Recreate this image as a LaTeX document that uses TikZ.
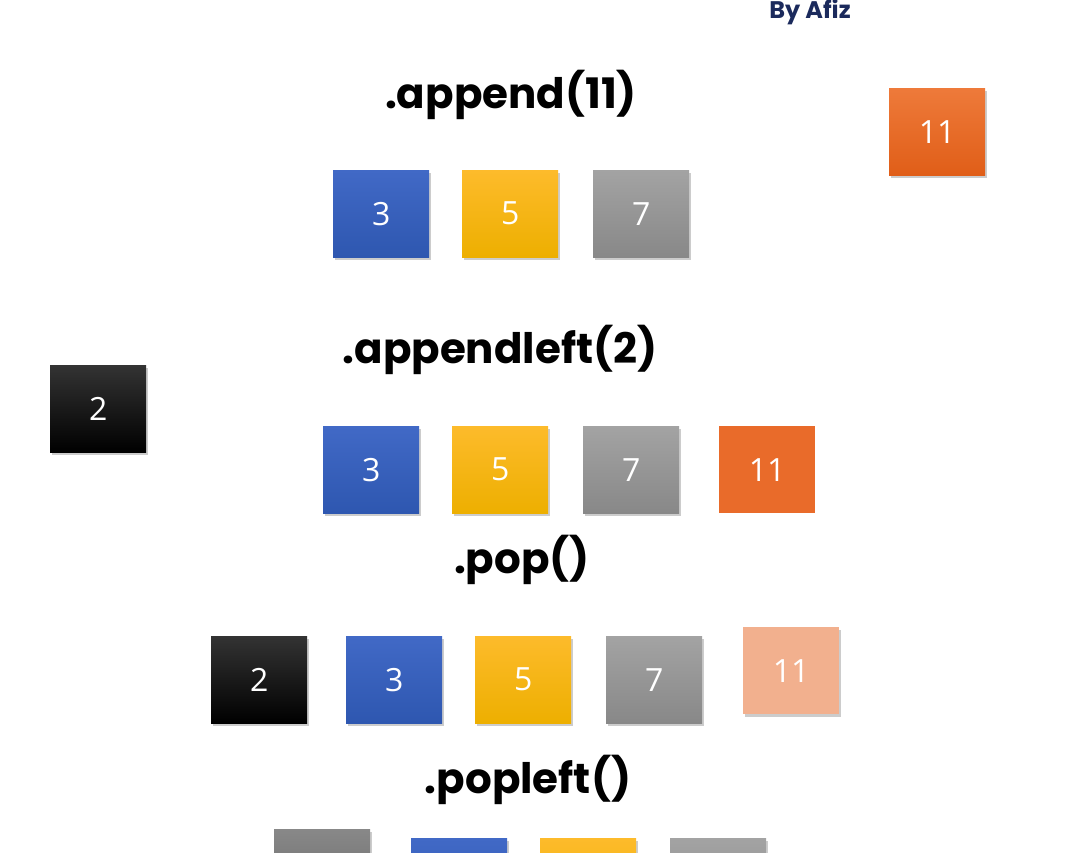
\documentclass[tikz,border=0pt]{standalone}
\usepackage{fontspec}
\setmainfont{Open Sans}
\newfontfamily\titlefont{Poppins}
\usetikzlibrary{shadows}
\definecolor{bblue}{HTML}{4169C6}
\definecolor{bblue2}{HTML}{2E57B0}
\definecolor{byel}{HTML}{FDBB2B}
\definecolor{byel2}{HTML}{EDAF00}
\definecolor{bgray}{HTML}{A3A3A3}
\definecolor{bgray2}{HTML}{888888}
\definecolor{borg}{HTML}{EE7A3A}
\definecolor{borg2}{HTML}{E05E18}
\definecolor{bflat}{HTML}{E96B2A}
\definecolor{bpeach}{HTML}{F2B08E}
\definecolor{bnavy}{HTML}{1B2A5C}
\tikzset{
 x=1pt,y=-1pt,
 sq/.style={minimum width=96pt,minimum height=87pt,inner sep=0pt,text=white,font=\fontsize{32}{32}\selectfont,anchor=north west},
 sh/.style={drop shadow={shadow xshift=1.5pt,shadow yshift=-2.5pt,opacity=.4}},
 blu/.style={sq,sh,top color=bblue,bottom color=bblue2},
 yel/.style={sq,sh,top color=byel,bottom color=byel2},
 gry/.style={sq,sh,top color=bgray,bottom color=bgray2},
 dgry/.style={sq,sh,top color=bgray2,bottom color=gray!80!black},
 org/.style={sq,sh,top color=borg,bottom color=borg2},
 orgflat/.style={sq,fill=bflat},
 pch/.style={sq,sh,fill=bpeach},
 blk/.style={sq,sh,top color=black!80,bottom color=black},
 ttl/.style={font=\titlefont\bfseries\fontsize{42}{42}\selectfont,text=black},
}
\begin{document}
\begin{tikzpicture}
\useasboundingbox (0,0) rectangle (1066,853);
\clip (0,0) rectangle (1066,853);
\node[font=\titlefont\bfseries\fontsize{24}{24}\selectfont,text=bnavy] (by) at (810,12) {By Afiz};
\node[ttl] (t1) at (511,95) {.append(11)};
\node[org] (a11) at (889,88) {11};
\node[blu] (a3) at (333,170) {3};
\node[yel] (a5) at (462,170) {5};
\node[gry] (a7) at (593,170) {7};
\node[ttl] (t2) at (500,350) {.appendleft(2)};
\node[blk] (b2) at (50,365) {2};
\node[blu] (b3) at (323,426) {3};
\node[yel] (b5) at (452,426) {5};
\node[gry] (b7) at (583,426) {7};
\node[orgflat] (b11) at (719,426) {11};
\node[ttl] (t3) at (522,560) {.pop()};
\node[blk] (c2) at (211,636) {2};
\node[blu] (c3) at (346,636) {3};
\node[yel] (c5) at (475,636) {5};
\node[gry] (c7) at (606,636) {7};
\node[pch] (c11) at (743,627) {11};
\node[ttl] (t4) at (528,780) {.popleft()};
\node[dgry] (d2) at (274,829) {};
\node[blu] (d3) at (411,838) {};
\node[yel] (d5) at (540,838) {};
\node[gry] (d7) at (670,838) {};
\end{tikzpicture}
\end{document}
